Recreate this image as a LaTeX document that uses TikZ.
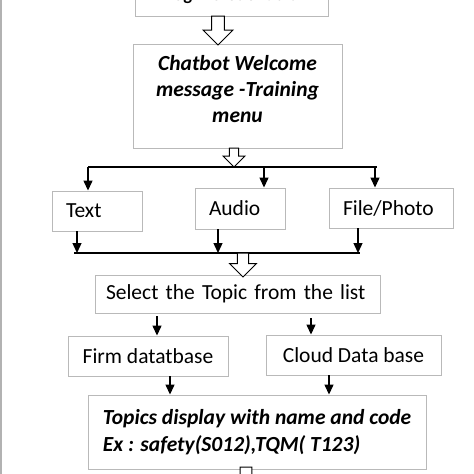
\documentclass[tikz,border=0pt]{standalone}
\usepackage{fontspec}
\setmainfont{Carlito}
\usetikzlibrary{arrows.meta}

\tikzset{
  box/.style={draw=gray!55, line width=0.9pt, inner xsep=14pt, inner ysep=0pt,
    font=\fontsize{21.5}{25}\selectfont},
  bolditalic/.style={font=\fontsize{21.5}{26}\selectfont\bfseries\itshape},
  arr/.style={line width=1.3pt, -{Triangle[width=9pt,length=10pt]}},
  bus/.style={line width=1.3pt},
}
\newcommand{\hollowdown}[4]{%
  \draw[line width=1pt, fill=white] ({#1-0.42*#4},#2) -- ({#1+0.42*#4},#2)
    -- ({#1+0.42*#4},{#3-#4}) -- ({#1+#4},{#3-#4}) -- (#1,#3)
    -- ({#1-#4},{#3-#4}) -- ({#1-0.42*#4},{#3-#4}) -- cycle;}

\begin{document}
\begin{tikzpicture}[x=1pt, y=-1pt]
  \useasboundingbox (0,0) rectangle (474,474);
  \clip (0,0) rectangle (474,474);
  \fill[gray!60] (0,0) rectangle (2,474);

  \node[box, minimum width=193pt, minimum height=40pt, font=\fontsize{18.5}{25}\selectfont\bfseries] (login) at (231.5,-4) {Login Credentials};
  \node[box, bolditalic, minimum width=209pt, minimum height=104pt, text depth=15pt, align=center] (welcome) at (237.5,96) {Chatbot Welcome\\message -Training\\menu};

  \node[box, minimum height=40pt, text width=62pt, align=left] (text) at (97,211) {Text};
  \node[box, minimum height=41pt, text width=62pt, align=left] (audio) at (240,208.5) {Audio};
  \node[box, minimum height=40pt, text width=96pt, align=left] (file) at (391,208) {File/Photo};

  \node[box, inner xsep=11pt, minimum height=38pt, text width=263pt, align=left] (select) at (237.5,294) {Select the Topic from the list};
  \node[box, minimum width=160pt, minimum height=40pt] (firm) at (148,356) {Firm datatbase};
  \node[box, minimum width=175pt, minimum height=40pt] (cloud) at (353.5,355) {Cloud Data base};
  \node[box, bolditalic, font=\fontsize{21.5}{27}\selectfont\bfseries\itshape, minimum width=338pt, minimum height=74pt, align=left] (topics) at (257,432) {Topics display with name and code\\Ex : safety(S012),TQM( T123)};

  \hollowdown{218}{16}{45}{15}
  \hollowdown{234}{148}{167}{11}
  \draw[bus] (88,167) -- (377,167);
  \foreach \x/\n in {88/text, 264/audio, 375/file} {
    \draw[arr] (\x,167) -- (\x,167 |- \n.north);
  }
  \foreach \x/\n in {77/text, 218/audio, 358/file} {
    \draw[arr] (\x,0 |- \n.south) -- (\x,253);
  }
  \draw[bus] (74,253) -- (360,253);
  \hollowdown{243}{253}{277}{13.5}

  \draw[arr, shorten <=3pt] (157,0 |- select.south) -- (157,0 |- firm.north);
  \draw[arr, shorten <=5pt] (311,0 |- select.south) -- (311,0 |- cloud.north);
  \draw[arr] (170,0 |- firm.south) -- (170,0 |- topics.north);
  \draw[arr] (329,0 |- cloud.south) -- (329,0 |- topics.north);
  \hollowdown{246}{467}{492}{14}
\end{tikzpicture}
\end{document}
